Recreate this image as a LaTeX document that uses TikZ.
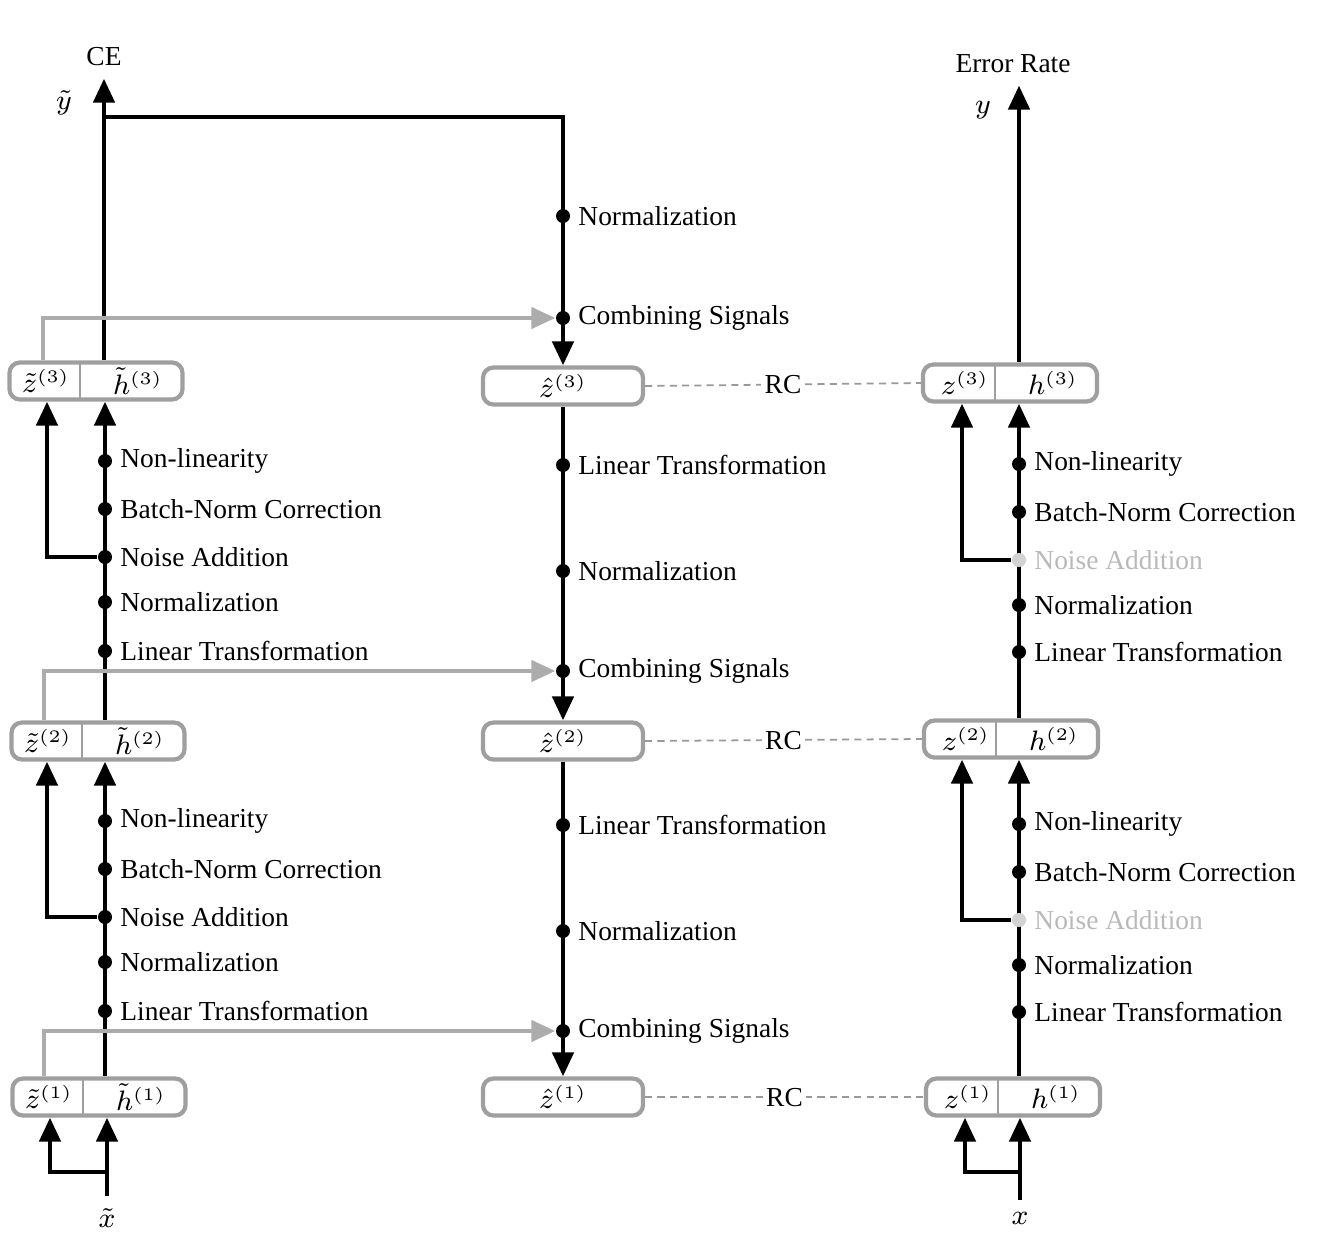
\documentclass[tikz,border=0pt]{standalone}
\usepackage{fontspec}
\setmainfont{Liberation Serif}
\usetikzlibrary{arrows.meta}
\tikzset{
	arr/.style={-{Triangle[length=0.24cm,width=0.21cm]}, line width=1.3pt}, % black flow
	garr/.style={arr, draw=gray!65, color=gray!65}, % side signal
	box/.style={draw=gray!75, line width=1.2pt, rounded corners=3pt, fill=white, minimum height=0.37cm, inner sep=0pt},
	part/.style={inner sep=0pt},
	dot/.style={circle, fill=black, inner sep=0pt, minimum size=0.14cm},
	gdot/.style={dot, fill=gray!35},
	lab/.style={font=\fontsize{7.8}{9}\selectfont, inner sep=1pt, xshift=1pt},
	glab/.style={lab, text=gray!55},
	rc/.style={dash pattern=on 2pt off 1.5pt, gray!80, line width=0.5pt},
	every node/.append style={font=\fontsize{7.8}{9}\selectfont},
}
\begin{document}
\begin{tikzpicture}[x=0.01cm,y=-0.01cm]
\useasboundingbox (0,0) rectangle (1321,1242);

% boxes, left column
\foreach \n/\x/\y in {3/96/381, 2/98/741, 1/99/1097} {
	\node[box, minimum width=1.73cm] (L\n) at (\x,\y) {};
	\node[part] (L\n z) at (\x-50,\y) {$\tilde z^{(\n)}$};
	\node[part] (L\n h) at (\x+42,\y) {$\tilde h^{(\n)}$};
	\draw[gray!75, line width=0.8pt] (\x-16,\y-19) -- (\x-16,\y+19);
}
% boxes, middle column
\foreach \n/\y in {3/386, 2/741, 1/1097}
	\node[box, minimum width=1.6cm] (M\n) at (563,\y) {$\hat z^{(\n)}$};
% boxes, right column
\foreach \n/\x/\y in {3/1010/383, 2/1011/739, 1/1013/1097} {
	\node[box, minimum width=1.74cm] (R\n) at (\x,\y) {};
	\node[part] (R\n z) at (\x-45,\y) {$z^{(\n)}$};
	\node[part] (R\n h) at (\x+43,\y) {$h^{(\n)}$};
	\draw[gray!75, line width=0.8pt] (\x-15,\y-19) -- (\x-15,\y+19);
}

% inputs and outputs
\node (xt) at (107,1218) {$\tilde x$};
\node (x) at (1020,1218) {$x$};
\node (ce) at (104,57) {CE};
\node (yt) at (64,103) {$\tilde y$};
\node (er) at (1013,64) {Error Rate};
\node (y) at (983,110) {$y$};
\coordinate (xs) at (107,1172);
\coordinate (rs) at (1020,1172);
\coordinate (top) at (104,117);

\draw[arr] (xt) -- (L1.south -| xt);
\draw[arr] (xs) -| (L1.south -| 50,0);
\draw[arr] (x) -- (R1.south -| x);
\draw[arr] (rs) -| (R1.south -| 965,0);
\draw[arr] (L3.north -| top) -- (ce.south -| top);
\draw[arr] (R3.north -| 1019,0) -- (er.south -| 1019,0);
\draw[arr] (top) -| (M3.north);

% encoder stages, left (noisy) and right (clean)
\foreach \k/\j/\a in {3/2/0, 2/1/360} {
	\draw[arr] (L\j.north -| 105,0) -- (L\k.south -| 105,0);
	\draw[arr] (R\j.north -| 1019,0) -- (R\k.south -| 1019,0);
	\draw[arr] (M\k.south) -- (M\j.north);
	\foreach \y/\t [count=\i] in {461/Non-linearity, 509/Batch-Norm Correction, 557/Noise Addition, 602/Normalization, 651/Linear Transformation}
		\node[dot, label={[lab]right:\t}] (L\k-\i) at (105,\y+\a) {};
	\foreach \y/\t [count=\i] in {464/Non-linearity, 512/Batch-Norm Correction, 605/Normalization, 652/Linear Transformation}
		\node[dot, label={[lab]right:\t}] (R\k-\i) at (1019,\y+\a) {};
	\node[gdot, label={[glab]right:Noise Addition}] (R\k-n) at (1019,560+\a) {};
	\draw[arr] (L\k-3) -| (L\k.south -| 47,0);
	\draw[arr] (R\k-n) -| (R\k.south -| 962,0);
	\foreach \y/\t [count=\i] in {465/Linear Transformation, 571/Normalization}
		\node[dot, label={[lab]right:\t}] (M\k-\i) at (563,\y+\a) {};
	\node[dot, label={[lab]right:Combining Signals}] (C\j) at (563,671+\a) {};
	\draw[garr] (L\j.north -| 44,0) |- (C\j.west);
}
% decoder top
\node[dot, label={[lab]right:Normalization}] (M4-1) at (563,216) {};
\node[dot, label={[lab]right:Combining Signals}] (C3) at (563,318) {};
\draw[garr] (L3.north -| 43,0) |- (C3.west);

% reconstruction costs
\foreach \n in {3,2,1}
	\draw[rc] (M\n.east) -- node[above=-4pt, fill=white, inner sep=1pt, text=black] {RC} (R\n.west);
\end{tikzpicture}
\end{document}
